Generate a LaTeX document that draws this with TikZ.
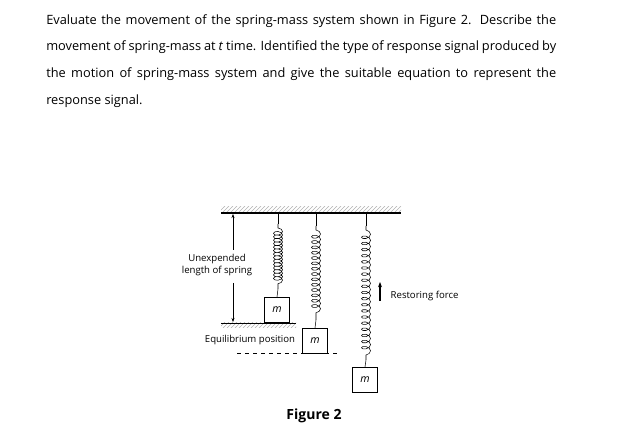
\documentclass[tikz,border=0pt]{standalone}
\usepackage{fontspec}
\setmainfont{Open Sans}
\usetikzlibrary{decorations.pathmorphing,patterns,arrows.meta}
\begin{document}
\begin{tikzpicture}[x=0.75pt,y=-0.75pt,
  spr/.style={decorate,decoration={coil,amplitude=3.4pt,aspect=0.6,pre length=3pt,post length=3pt}},
  mass/.style={draw,thick,minimum width=18.75pt,minimum height=18.75pt,inner sep=0pt,font=\footnotesize\itshape},
  hatch/.style={pattern=north east lines,pattern color=gray!60,draw=none},
  lbl/.style={font=\fontsize{7.2}{9.5}\selectfont,align=center}]
\useasboundingbox (0,0) rectangle (626,431);
\node[anchor=north west,text width=382.5pt,align=justify,font=\fontsize{9.6}{20}\selectfont,inner sep=0pt] (txt) at (46,14)
 {Evaluate the movement of the spring-mass system shown in Figure 2. Describe the\linebreak movement of spring-mass at \textit{t} time. Identified the type of response signal produced by\linebreak the motion of spring-mass system and give the suitable equation to represent the\linebreak response signal.};
% ceiling
\fill[hatch] (221,207) rectangle (401,213);
\draw[thick] (221,213) -- (401,213);
% floor
\fill[hatch] (221,323) rectangle (296,328);
\draw (221,323) -- (296,323);
% spring 1
\coordinate (a1) at (278,213);
\node[mass,anchor=north] (m1) at (277,297) {m};
\draw (a1) -- (278,224);
\draw[spr,decoration={segment length=2.6pt}] (278,224) -- (278,289);
\draw (278,289) -- (m1.north);
% spring 2
\coordinate (a2) at (316,213);
\node[mass,anchor=north] (m2) at (315,328) {m};
\draw (a2) -- (316,226);
\draw[spr,decoration={segment length=4pt}] (316,226) -- (316,320);
\draw (316,320) -- (m2.north);
% spring 3
\coordinate (a3) at (366,213);
\node[mass,anchor=north] (m3) at (365,367) {m};
\draw (a3) -- (366,226);
\draw[spr,decoration={segment length=4.6pt}] (366,226) -- (366,360);
\draw (366,360) -- (m3.north);
% dashed equilibrium
\draw[dashed] (237,353) -- (338,353);
% dimension arrow
\coordinate (d1) at (233,214);
\coordinate (d2) at (233,322);
\draw[-{Stealth[length=3pt]}] (233,250) -- (d1);
\draw[-{Stealth[length=3pt]}] (233,283) -- (d2);
\node[lbl] (ul) at (217,265) {Unexpended\\length of spring};
\node[lbl] (eq) at (250,340) {Equilibrium position};
% restoring force
\coordinate (r1) at (380,301);
\coordinate (r2) at (380,282);
\draw[thick,-{Stealth[length=4pt]}] (r1) -- (r2);
\node[lbl,anchor=west] (rf) at (386,296) {Restoring force};
\node[font=\bfseries\fontsize{10.5}{12}\selectfont] (fig) at (314,416) {Figure 2};
\end{tikzpicture}
\end{document}
